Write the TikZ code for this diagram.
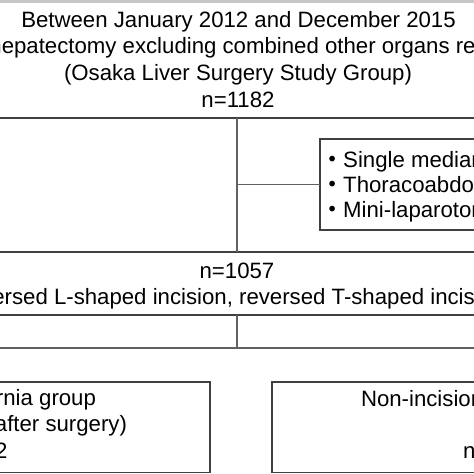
\documentclass[tikz,border=0pt]{standalone}
\usepackage{fontspec}
\setmainfont{Liberation Sans}
\newfontfamily\cjkfont{Noto Sans CJK JP Bold}
\begin{document}
\begin{tikzpicture}[x=1pt,y=-1pt,
  box/.style={draw=black!75,line width=1.4pt,rectangle,inner sep=0pt,outer sep=0pt},
  conn/.style={draw=black!62,line width=1.4pt},
  txt/.style={font=\fontsize{22.2pt}{27pt}\selectfont,inner sep=0pt,outer sep=0pt,text=black}]
\useasboundingbox (0,0) rectangle (474,474);
\clip (0,0) rectangle (474,474);
\fill[black!22] (0,0) rectangle (474,2.5);
% boxes
\node[box,minimum width=736pt,minimum height=123pt] (topbox) at (238,56.5) {};
\node[box,minimum width=736pt,minimum height=63pt] (b1057) at (238,283.5) {};
\node[box,minimum width=380pt,minimum height=91pt] (excl) at (510,184.5) {};
\node[box,minimum width=454pt,minimum height=90.5pt] (lbox) at (-17,427.25) {};
\node[box,minimum width=446pt,minimum height=90.5pt] (rbox) at (495,427.25) {};
% texts
\node[txt,anchor=base] (t1) at (238.5,27) {Between January 2012 and December 2015};
\node[txt,anchor=base] (t2) at (237.5,53.7) {Open hepatectomy excluding combined other organs resection};
\node[txt,anchor=base] (t3) at (238,80.3) {(Osaka Liver Surgery Study Group)};
\node[txt,anchor=base] (t4) at (238,107) {n=1182};
\node[txt,anchor=base west] (e1) at (321,167.4) {{\cjkfont ・}Single median incision};
\node[txt,anchor=base west] (e2) at (321,192.4) {{\cjkfont ・}Thoracoabdominal incision};
\node[txt,anchor=base west] (e3) at (321,217.4) {{\cjkfont ・}Mini-laparotomy};
\node[txt,anchor=base] (m1) at (237,278) {n=1057};
\node[txt,anchor=base] (m2) at (233,304) {reversed L-shaped incision, reversed T-shaped incision};
\node[txt,anchor=base east] (l1) at (96,405) {Incisional hernia group};
\node[txt,anchor=base east] (l2) at (127,431.5) {(within 3 years after surgery)};
\node[txt,anchor=base east] (l3) at (7.5,458) {n=12};
\node[txt,anchor=base west] (r1) at (361,406) {Non-incisional hernia group};
\node[txt,anchor=base west] (r3) at (463,458) {n=1045};
% connectors
\coordinate (v) at (237,0);
\coordinate (br) at (0,348);
\draw[conn] (topbox.south -| v) -- (b1057.north -| v);
\draw[conn] (v |- excl.west) -- (excl.west);
\draw[conn] (b1057.south -| v) -- (v |- br);
\draw[conn] (lbox.north) -- (lbox.north |- br) -- (rbox.north |- br) -- (rbox.north);
\end{tikzpicture}
\end{document}
